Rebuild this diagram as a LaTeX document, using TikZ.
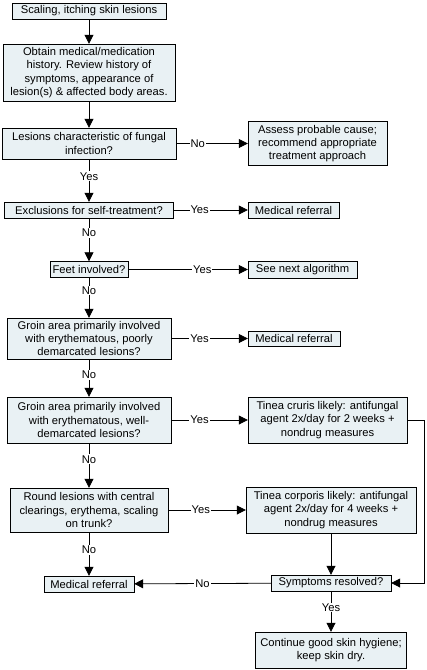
\documentclass[tikz,border=0pt]{standalone}
\usepackage{fontspec}
\setmainfont{Liberation Sans}
\usetikzlibrary{arrows.meta}
\definecolor{soft}{HTML}{E9F1F4}

\begin{document}
\begin{tikzpicture}[x=1pt,y=-1pt,box/.style={draw,fill=soft,align=center,inner sep=1pt,font=\fontsize{11.2}{13.3}\selectfont},arr/.style={-{Triangle[length=9pt,width=9pt]},line width=0.8pt},lbl/.style={fill=white,inner sep=1pt,font=\fontsize{11.2}{12}\selectfont}]
\useasboundingbox (0,0) rectangle (427,670);
% left column
\node[box,minimum width=154pt,minimum height=16pt] (start) at (89,11) {Scaling, itching skin lesions};
\node[box,minimum width=172pt,minimum height=57pt] (history) at (89,72.5) {Obtain medical/medication\\history. Review history of\\symptoms, appearance of\\lesion(s) \& affected body areas.};
\node[box,minimum width=174pt,minimum height=31pt] (fungal) at (89,143.5) {Lesions characteristic of fungal\\infection?};
\node[box,minimum width=169pt,minimum height=16pt] (excl) at (89,210) {Exclusions for self-treatment?};
\node[box,minimum width=78pt,minimum height=16pt] (feet) at (89,269.5) {Feet involved?};
\node[box,minimum width=164pt,minimum height=41pt] (groinA) at (89,338.5) {Groin area primarily involved\\with erythematous, poorly\\demarcated lesions?};
\node[box,minimum width=164pt,minimum height=46pt] (groinB) at (89,420) {Groin area primarily involved\\with erythematous, well-\\demarcated lesions?};
\node[box,minimum width=158pt,minimum height=44pt] (trunk) at (89,510) {Round lesions with central\\clearings, erythema, scaling\\on trunk?};
\node[box,minimum width=90pt,minimum height=16pt] (referC) at (89,584) {Medical referral};
% right column
\node[box,minimum width=139pt,minimum height=44pt] (assess) at (317.5,143.5) {Assess probable cause;\\recommend appropriate\\treatment approach};
\node[box,minimum width=91pt,minimum height=16pt] (referA) at (293.5,210) {Medical referral};
\node[box,minimum width=109pt,minimum height=17pt] (next) at (302.5,269.5) {See next algorithm};
\node[box,minimum width=92pt,minimum height=15pt] (referB) at (294,338.5) {Medical referral};
\node[box,minimum width=159pt,minimum height=46pt] (cruris) at (327.5,420) {Tinea cruris likely: antifungal\\agent 2x/day for 2 weeks +\\nondrug measures};
\node[box,minimum width=170pt,minimum height=46pt] (corporis) at (331,510) {Tinea corporis likely: antifungal\\agent 2x/day for 4 weeks +\\nondrug measures};
\node[box,minimum width=120pt,minimum height=16pt] (resolved) at (331,583) {Symptoms resolved?};
\node[box,minimum width=151pt,minimum height=36pt] (hygiene) at (331,650) {Continue good skin hygiene;\\keep skin dry.};
\coordinate (loop) at (424,420);
% connectors
\draw[arr](start)--(history);\draw[arr](history)--(fungal);
\draw[arr](fungal)--node[lbl,pos=0.4]{Yes}(excl);\draw[arr](fungal)--node[lbl,pos=0.3]{No}(assess);
\draw[arr](excl)--node[lbl,pos=0.35]{Yes}(referA);\draw[arr](excl)--node[lbl,pos=0.34]{No}(feet);
\draw[arr](feet)--node[lbl,pos=0.62]{Yes}(next);\draw[arr](feet)--node[lbl,pos=0.32]{No}(groinA);
\draw[arr](groinA)--node[lbl,pos=0.37]{Yes}(referB);\draw[arr](groinA)--node[lbl,pos=0.42]{No}(groinB);
\draw[arr](groinB)--node[lbl,pos=0.37]{Yes}(cruris);\draw[arr](groinB)--node[lbl,pos=0.36]{No}(trunk);
\draw[arr](trunk)--node[lbl,pos=0.42]{Yes}(corporis);\draw[arr](trunk)--node[lbl,pos=0.4]{No}(referC);
\draw[arr](cruris.east)--(loop)|-(resolved.east);\draw[arr](corporis)--(resolved);
\draw[arr](resolved)--node[lbl,pos=0.5]{No}(referC);\draw[arr](resolved)--node[lbl,pos=0.4]{Yes}(hygiene);
\end{tikzpicture}
\end{document}
